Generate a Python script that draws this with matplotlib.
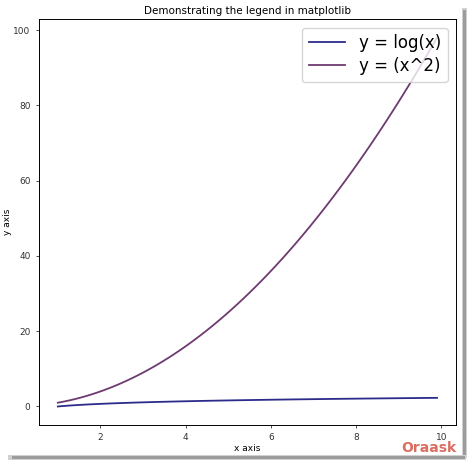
import numpy as np
import matplotlib.pyplot as plt
from matplotlib.patches import Rectangle

# dados: x de 1 a 9.9 com passo 0.1
x = np.arange(1, 10, 0.1)
y_log = np.log(x)
y_quad = x ** 2

titulo = "Demonstrating the legend in matplotlib"
legenda = ["y = log(x)", "y = (x^2)"]

W, H = 474, 469
fig = plt.figure(figsize=(W / 100, H / 100), dpi=100)

# sombra da moldura (captura de ecrã), em pixels convertidos para fração
def sombra(x0, y0, w, h, cor):
    fig.patches.append(Rectangle((x0 / W, 1 - (y0 + h) / H), w / W, h / H,
                                 transform=fig.transFigure, color=cor,
                                 lw=0, zorder=-1))

sombra(462, 8, 5, 450, "#d0d0d0")
sombra(463, 10, 3, 447, "#9c9c9c")
sombra(8, 455, 458, 5, "#d0d0d0")
sombra(12, 456, 453, 3, "#9c9c9c")

ax = fig.add_axes([0.082, 0.094, 0.88, 0.865])
ax.plot(x, y_log, color="#2b2b8c", linewidth=1.3, label=legenda[0])
ax.plot(x, y_quad, color="#6e3a70", linewidth=1.3, label=legenda[1])

ax.set_title(titulo, fontsize=7.5, pad=4)
ax.set_xlabel("x axis", fontsize=6.5, labelpad=1)
ax.set_ylabel("y axis", fontsize=6.5, labelpad=1)
ax.tick_params(labelsize=6.5, length=2.5, width=0.6, colors="#333333")
for s in ax.spines.values():
    s.set_linewidth(0.7)
ax.legend(loc="upper right", fontsize=12, handlelength=2.2, borderaxespad=0.5,
          labelspacing=0.3)

fig.text(0.962, 0.045, "Oraask", color="#d04a3a", fontsize=10, ha="right",
         va="center", fontweight="bold", alpha=0.8)

fig.savefig("out.png", dpi=100)
